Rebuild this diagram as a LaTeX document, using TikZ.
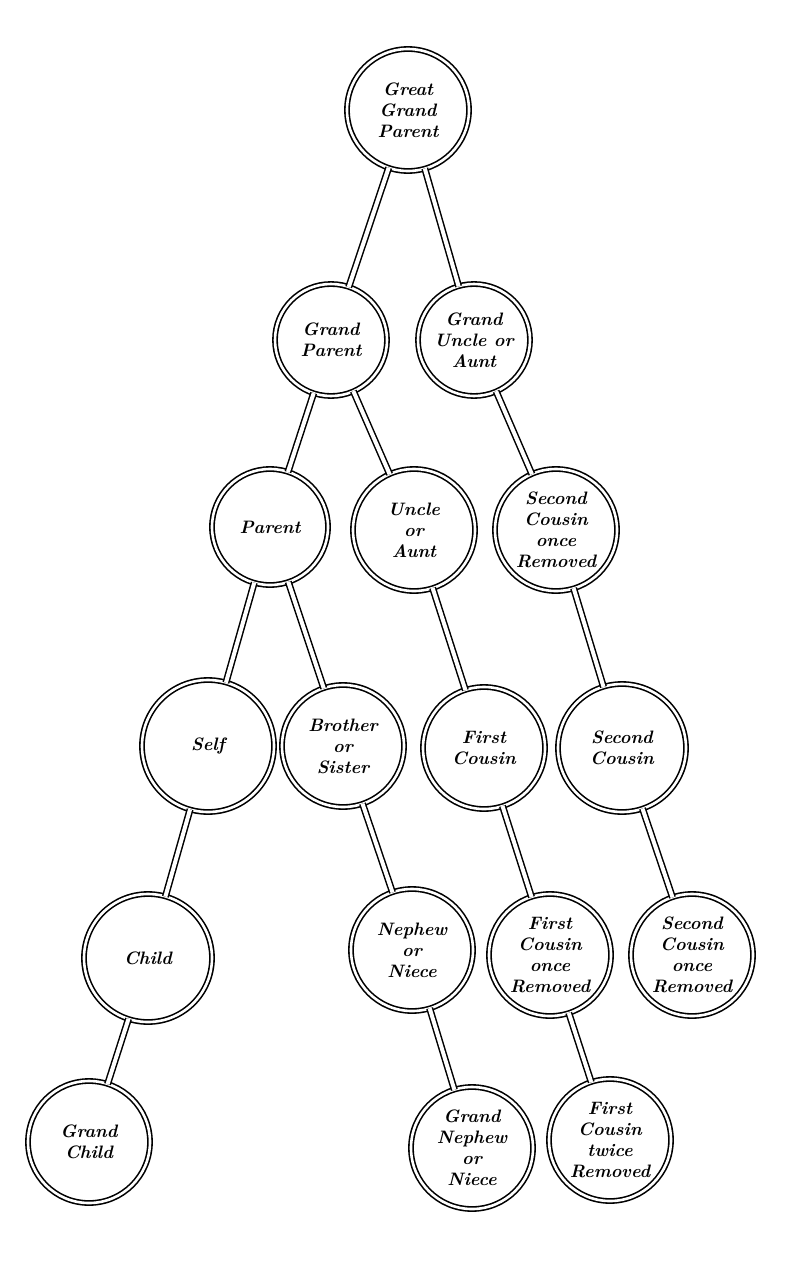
\documentclass[tikz,border=0pt]{standalone}
\usepackage{fontspec}
\setmainfont{Latin Modern Roman}
\begin{document}
\begin{tikzpicture}[x=1pt,y=-1pt,
  rel/.style={circle,draw=black,line width=1.6pt,double=white,double distance=2.6pt,
    minimum size=#1,inner sep=0pt,align=center,font=\fontsize{18}{21}\selectfont\bfseries\itshape},
  rel/.default=122pt,
  conn/.style={draw=black,line width=1.5pt,double=white,double distance=4pt,shorten <=-1pt,shorten >=-1pt}]
\useasboundingbox (0,0) rectangle (794,1261);
\node[rel] (ggp) at (408,110) {Great\\Grand\\Parent};
\node[rel=112pt] (gp) at (331,340) {Grand\\Parent};
\node[rel=112pt] (gua) at (474,340) {Grand\\Uncle or\\Aunt};
\node[rel=116pt] (p) at (270,527) {Parent};
\node[rel] (ua) at (414,530) {Uncle\\or\\Aunt};
\node[rel] (scor1) at (556,530) {Second\\Cousin\\once\\Removed};
\node[rel=132pt] (self) at (208,746) {Self};
\node[rel] (bs) at (343,746) {Brother\\or\\Sister};
\node[rel] (fc) at (484,748) {First\\Cousin};
\node[rel=128pt] (sc) at (622,748) {Second\\Cousin};
\node[rel=128pt] (ch) at (148,958) {Child};
\node[rel] (nn) at (412,950) {Nephew\\or\\Niece};
\node[rel] (fcor) at (550,955) {First\\Cousin\\once\\Removed};
\node[rel] (scor2) at (692,955) {Second\\Cousin\\once\\Removed};
\node[rel] (gc) at (89,1142) {Grand\\Child};
\node[rel] (gnn) at (472,1148) {Grand\\Nephew\\or\\Niece};
\node[rel] (fctr) at (610,1140) {First\\Cousin\\twice\\Removed};
\draw[conn] (ggp) -- (gp);
\draw[conn] (ggp) -- (gua);
\draw[conn] (gp) -- (p);
\draw[conn] (gp) -- (ua);
\draw[conn] (gua) -- (scor1);
\draw[conn] (p) -- (self);
\draw[conn] (p) -- (bs);
\draw[conn] (ua) -- (fc);
\draw[conn] (scor1) -- (sc);
\draw[conn] (self) -- (ch);
\draw[conn] (bs) -- (nn);
\draw[conn] (fc) -- (fcor);
\draw[conn] (sc) -- (scor2);
\draw[conn] (ch) -- (gc);
\draw[conn] (nn) -- (gnn);
\draw[conn] (fcor) -- (fctr);
\end{tikzpicture}
\end{document}
